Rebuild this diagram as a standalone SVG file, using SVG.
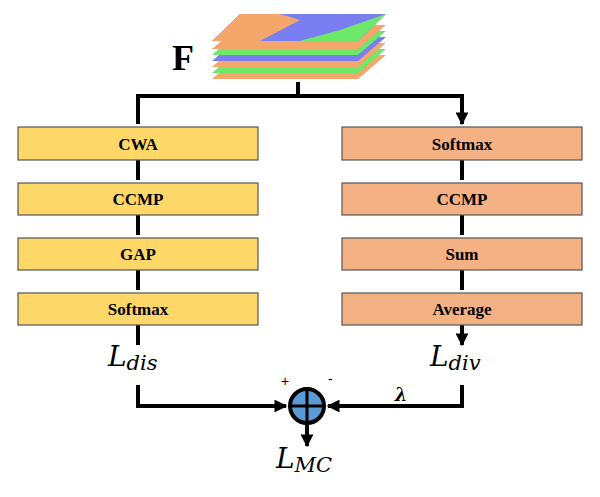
<svg xmlns="http://www.w3.org/2000/svg" width="600" height="497" viewBox="0 0 600 497">
<style>
.y{fill:#fdd868;stroke:#555;stroke-width:1.2}
.o{fill:#f4b183;stroke:#555;stroke-width:1.2}
.t{font-family:"Liberation Serif",serif;font-weight:bold;font-size:17px;text-anchor:middle}
.m{font-family:"DejaVu Serif",serif;font-style:italic;fill:#000}
.c{stroke:#000;stroke-width:4;fill:none}
</style>
<defs><marker id="a" viewBox="0 0 10 10" refX="9" refY="5" markerWidth="3.2" markerHeight="3.2" orient="auto"><path d="M0,0L10,5L0,10z" fill="#000"/></marker></defs>
<g id="F">
<text x="183" y="70" font-family="Liberation Serif" font-weight="bold" font-size="36" text-anchor="middle">F</text>
<g stroke="none">
<polygon points="212,79 358,79 386,55 240,55" fill="#f4a66b"/>
<polygon points="212,73 358,73 386,49 240,49" fill="#6ee86a"/>
<polygon points="212,67 358,67 386,43 240,43" fill="#f4a66b"/>
<polygon points="212,61 358,61 386,37 240,37" fill="#7b7ef0"/>
<polygon points="212,55 358,55 386,31 240,31" fill="#6ee86a"/>
<polygon points="212,49 358,49 386,25 240,25" fill="#f4a66b"/>
<polygon points="212,41 358,41 386,14 240,14" fill="#7b7ef0"/>
<polygon points="212,41 260,41 300,20 280,14 240,14" fill="#f4a66b"/>
<polygon points="300,41 358,41 386,14 340,30" fill="#6ee86a"/>
</g>
</g>
<g id="connectors">
<path class="c" d="M298,82V96M138,96H462"/>
<path class="c" d="M138,94V124M462,94V124" marker-end="url(#a)"/>
<path class="c" d="M138,160V180M138,215V235M138,270V290M138,325V345M462,160V180M462,215V235M462,270V290M462,325V345" marker-end="url(#a)"/>
<path class="c" d="M138,385V406H286" marker-end="url(#a)"/>
<path class="c" d="M462,385V406H328" marker-end="url(#a)"/>
<path class="c" d="M307,424V446" marker-end="url(#a)"/>
</g>
<g id="n1"><rect class="y" x="18" y="127" width="240" height="33"/><text class="t" x="138" y="150">CWA</text></g>
<g id="n2"><rect class="y" x="18" y="183" width="240" height="32"/><text class="t" x="138" y="205">CCMP</text></g>
<g id="n3"><rect class="y" x="18" y="238" width="240" height="32"/><text class="t" x="138" y="260">GAP</text></g>
<g id="n4"><rect class="y" x="18" y="293" width="240" height="32"/><text class="t" x="138" y="315">Softmax</text></g>
<g id="n5"><rect class="o" x="342" y="127" width="240" height="33"/><text class="t" x="462" y="150">Softmax</text></g>
<g id="n6"><rect class="o" x="342" y="183" width="240" height="32"/><text class="t" x="462" y="205">CCMP</text></g>
<g id="n7"><rect class="o" x="342" y="238" width="240" height="32"/><text class="t" x="462" y="260">Sum</text></g>
<g id="n8"><rect class="o" x="342" y="293" width="240" height="32"/><text class="t" x="462" y="315">Average</text></g>
<g id="sum"><circle cx="307" cy="406" r="17" fill="#5b9bd5" stroke="#000" stroke-width="4"/><path d="M307,389V423M290,406H324" stroke="#000" stroke-width="3"/></g>
<g id="labels">
<text class="m" x="108" y="366" font-size="28">L<tspan font-size="21" dy="4">dis</tspan></text>
<text class="m" x="430" y="366" font-size="28">L<tspan font-size="21" dy="4">div</tspan></text>
<text class="m" x="276" y="468" font-size="28">L<tspan font-size="21" dy="4">MC</tspan></text>
<text x="281" y="386" font-family="Liberation Sans" font-size="14">+</text>
<text x="328" y="384" font-family="Liberation Sans" font-size="14">-</text>
<text x="401" y="401" font-family="DejaVu Serif" font-weight="bold" font-style="italic" font-size="18" text-anchor="middle">λ</text>
</g>
</svg>
